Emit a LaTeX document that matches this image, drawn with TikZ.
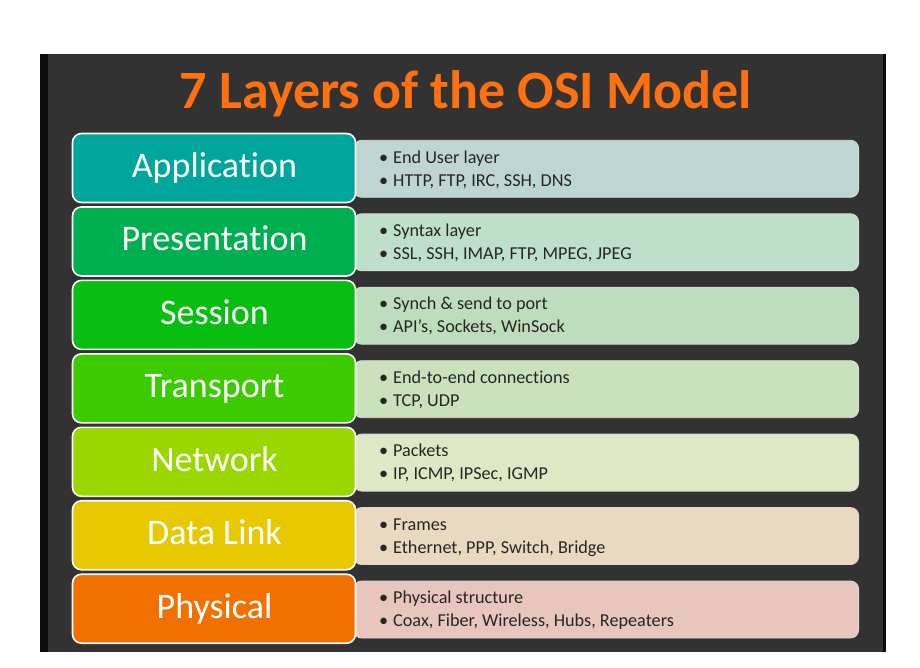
\documentclass[tikz,border=0pt]{standalone}
\usepackage{fontspec}
\setmainfont{Carlito}[Ligatures=NoCommon]
\definecolor{panel}{RGB}{50,50,50}
\definecolor{strip}{RGB}{12,12,12}
\definecolor{titleor}{RGB}{255,112,16}
\definecolor{cA}{RGB}{0,166,156}
\definecolor{cP}{RGB}{0,176,80}
\definecolor{cS}{RGB}{8,190,16}
\definecolor{cT}{RGB}{60,202,0}
\definecolor{cN}{RGB}{154,214,0}
\definecolor{cD}{RGB}{232,200,0}
\definecolor{cPh}{RGB}{242,112,0}
\definecolor{lA}{RGB}{191,213,211}
\definecolor{lP}{RGB}{190,223,202}
\definecolor{lS}{RGB}{190,221,188}
\definecolor{lT}{RGB}{202,226,188}
\definecolor{lN}{RGB}{222,232,196}
\definecolor{lD}{RGB}{232,217,192}
\definecolor{lPh}{RGB}{232,198,190}
\definecolor{txt}{RGB}{38,38,38}
\tikzset{
  layerbox/.style={draw=white, line width=1.6pt, rounded corners=9pt, minimum width=283pt, minimum height=69pt, inner sep=0pt},
  layertext/.style={anchor=base, text=white, font=\fontsize{36}{40}\selectfont, inner sep=0pt},
  infobox/.style={draw=white!70!gray, line width=0.8pt, rounded corners=8pt, minimum width=505pt, minimum height=57pt, inner sep=0pt, anchor=east},
  infotext/.style={anchor=base west, text=txt, font=\fontsize{18.2}{22}\selectfont, inner sep=0pt},
}
\newcommand{\bul}{\makebox[14pt][l]{\textbullet}}
\begin{document}
\begin{tikzpicture}[x=1pt,y=-1pt]
\useasboundingbox (0,0) rectangle (920,667);
\fill[white] (0,0) rectangle (920,667);
\fill[panel] (40,54) rectangle (886,652);
\fill[strip] (40,54) rectangle (48,652);
\fill[strip] (883,54) rectangle (886,652);
\node[anchor=base, inner sep=0pt, text=titleor, font=\fontsize{54}{60}\selectfont\bfseries] (title) at (466,108) {7 Layers of the OSI Model};
\foreach \i/\lname/\colL/\colR/\lineA/\lineB in {
  0/Application/cA/lA/End User layer/{HTTP, FTP, IRC, SSH, DNS},
  1/Presentation/cP/lP/Syntax layer/{SSL, SSH, IMAP, FTP, MPEG, JPEG},
  2/Session/cS/lS/Synch \& send to port/{API’s, Sockets, WinSock},
  3/Transport/cT/lT/End-to-end connections/{TCP, UDP},
  4/Network/cN/lN/Packets/{IP, ICMP, IPSec, IGMP},
  5/Data Link/cD/lD/Frames/{Ethernet, PPP, Switch, Bridge},
  6/Physical/cPh/lPh/Physical structure/{Coax, Fiber, Wireless, Hubs, Repeaters}} {
  \pgfmathsetmacro{\yc}{168+73.45*\i}
  \node[infobox, fill=\colR] (info\i) at (859,\yc+0.8) {};
  \node[layerbox, fill=\colL] (layer\i) at (214,\yc) {};
  \node[layertext] (label\i) at (214.5,\yc+9.5) {\lname};
  \node[infotext] (texta\i) at (379,\yc-5) {\bul\lineA};
  \node[infotext] (textb\i) at (379,\yc+18) {\bul\lineB};
}
\end{tikzpicture}
\end{document}
